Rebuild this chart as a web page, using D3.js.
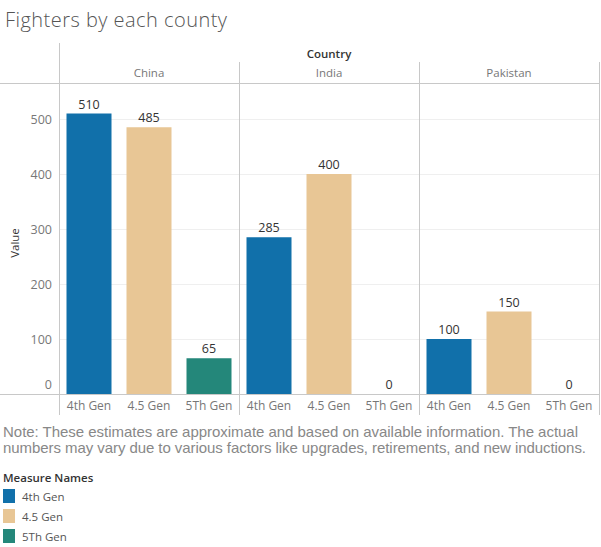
<!DOCTYPE html>
<html><head><meta charset="utf-8">
<script src="https://cdn.jsdelivr.net/npm/d3@7"></script>
<style>body{margin:0;background:#fff}svg{display:block}</style>
</head><body>
<script>
const countries = ["China", "India", "Pakistan"];
const measures = ["4th Gen", "4.5 Gen", "5Th Gen"];
const gen4 = [510, 285, 100];
const gen45 = [485, 400, 150];
const gen5 = [65, 0, 0];
const yTicks = [0, 100, 200, 300, 400, 500];
const colors = ["#1170aa", "#e8c695", "#24877a"];

const series = [gen4, gen45, gen5];
const data = [];
countries.forEach((c, i) => measures.forEach((m, j) => data.push({country: c, measure: m, value: series[j][i]})));

const W = 601, H = 547;
const svg = d3.select("body").append("svg").attr("width", W).attr("height", H);
const font = "'Open Sans', 'Noto Sans', sans-serif";
const pLeft = 59, pRight = 599, pTop = 84, base = 394;

svg.append("text").attr("x", 5).attr("y", 27).text("Fighters by each county")
  .attr("font-family", font).attr("font-size", 20).attr("font-weight", 300).attr("fill", "#555")
  .attr("textLength", 222).attr("lengthAdjust", "spacing");

const fx = d3.scaleBand().domain(countries).range([pLeft, pRight]);
const xIn = d3.scaleBand().domain(measures).range([0, fx.bandwidth()]).paddingInner(0.25).paddingOuter(0.125);
const y = d3.scaleLinear().domain([0, (base - pTop) / 0.55]).range([base, pTop]);

// gridlines
svg.selectAll("line.grid").data(yTicks.filter(d => d > 0)).join("line")
  .attr("x1", pLeft).attr("x2", pRight).attr("y1", d => Math.round(y(d)) + 0.5).attr("y2", d => Math.round(y(d)) + 0.5)
  .attr("stroke", "#efefef").attr("stroke-width", 1);

// header
svg.append("text").attr("x", (pLeft + pRight) / 2).attr("y", 58).attr("text-anchor", "middle")
  .text("Country").attr("font-family", font).attr("font-size", 11.5).attr("font-weight", 600).attr("fill", "#333");
svg.selectAll("text.cty").data(countries).join("text")
  .attr("x", d => fx(d) + fx.bandwidth() / 2).attr("y", 77).attr("text-anchor", "middle")
  .text(d => d).attr("font-family", font).attr("font-size", 11.5).attr("fill", "#777");

// lines
svg.append("line").attr("x1", 0).attr("x2", pRight).attr("y1", 83.5).attr("y2", 83.5).attr("stroke", "#c8c8c8");
svg.append("line").attr("x1", 0).attr("x2", pRight).attr("y1", base + 0.5).attr("y2", base + 0.5).attr("stroke", "#c8c8c8");
svg.append("line").attr("x1", pLeft + 0.5).attr("x2", pLeft + 0.5).attr("y1", 43).attr("y2", 415).attr("stroke", "#c8c8c8");
svg.selectAll("line.sep").data(countries).join("line")
  .attr("x1", d => fx(d) + fx.bandwidth() + 0.5).attr("x2", d => fx(d) + fx.bandwidth() + 0.5)
  .attr("y1", 62).attr("y2", 415).attr("stroke", "#c8c8c8");

// y axis
svg.selectAll("text.yt").data(yTicks).join("text")
  .attr("x", 52).attr("y", d => d === 0 ? y(d) - 5 : y(d) + 4.5).attr("text-anchor", "end")
  .text(d => d).attr("font-family", font).attr("font-size", 12.5).attr("fill", "#777");
svg.append("text").attr("transform", "translate(19,243) rotate(-90)").attr("text-anchor", "middle")
  .text("Value").attr("font-family", font).attr("font-size", 11.5).attr("fill", "#333");

// bars
svg.selectAll("rect.bar").data(data).join("rect")
  .attr("x", d => fx(d.country) + xIn(d.measure)).attr("width", xIn.bandwidth())
  .attr("y", d => y(d.value)).attr("height", d => base - y(d.value))
  .attr("fill", d => colors[measures.indexOf(d.measure)]);
svg.selectAll("text.lbl").data(data).join("text")
  .attr("x", d => fx(d.country) + xIn(d.measure) + xIn.bandwidth() / 2).attr("y", d => y(d.value) - 5)
  .attr("text-anchor", "middle").text(d => d.value)
  .attr("font-family", font).attr("font-size", 12.5).attr("fill", "#333");

// x labels
svg.selectAll("text.xl").data(data).join("text")
  .attr("x", d => fx(d.country) + xIn(d.measure) + xIn.bandwidth() / 2).attr("y", 410)
  .attr("text-anchor", "middle").text(d => d.measure)
  .attr("font-family", font).attr("font-size", 12).attr("fill", "#777");

// note
const note = ["Note: These estimates are approximate and based on available information. The actual",
  "numbers may vary due to various factors like upgrades, retirements, and new inductions."];
const noteLen = [575, 583];
svg.selectAll("text.note").data(note).join("text")
  .attr("x", 3).attr("y", (d, i) => 437 + i * 16).text(d => d)
  .attr("textLength", (d, i) => noteLen[i]).attr("lengthAdjust", "spacing")
  .attr("font-family", "'Liberation Sans', Arial, sans-serif").attr("font-size", 15).attr("fill", "#888");

// legend
svg.append("text").attr("x", 3).attr("y", 482).text("Measure Names")
  .attr("font-family", font).attr("font-size", 11.5).attr("font-weight", 600).attr("fill", "#333");
const lg = svg.selectAll("g.lg").data(measures).join("g").attr("transform", (d, i) => `translate(3,${489 + i * 20})`);
lg.append("rect").attr("width", 12).attr("height", 14).attr("fill", (d, i) => colors[i]);
lg.append("text").attr("x", 19).attr("y", 12).text(d => d)
  .attr("font-family", font).attr("font-size", 11.5).attr("fill", "#555");
</script>
</body></html>
